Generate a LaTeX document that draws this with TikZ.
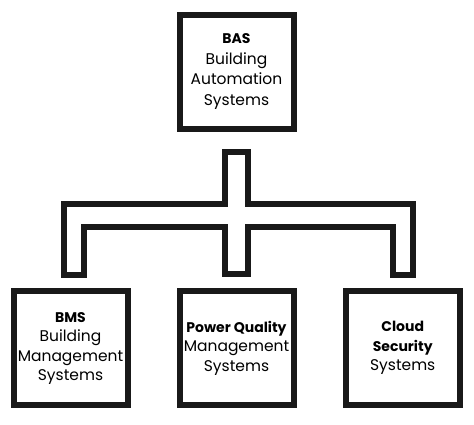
\documentclass[tikz,border=0pt]{standalone}
\usepackage{fontspec}
\setmainfont{Poppins}
\usetikzlibrary{calc}
\newcommand{\hd}[1]{{\fontsize{14}{19.5}\selectfont\bfseries #1}}
\begin{document}
\begin{tikzpicture}[x=1pt,y=-1pt,
  box/.style={draw=black!90, line width=6pt, minimum width=114pt, minimum height=114pt,
    inner sep=0pt, align=center, font=\fontsize{15.5}{19.5}\selectfont},
  fork/.style={draw=black!90, line width=6pt, line join=miter, fill=white}]
\useasboundingbox[fill=white] (0,0) rectangle (474,424);
\node[box, font=\fontsize{15.5}{20.5}\selectfont] (bas) at (236.5,71.5) {\hd{BAS}\\Building\\Automation\\Systems};
\node[box] (bms) at (70.5,348.3) {\hd{BMS}\\Building\\Management\\Systems};
\node[box] (pq) at (236.5,348.3) {\hd{Power Quality}\\Management\\Systems};
\node[box] (cs) at (402.7,348.3) {\hd{Cloud}\\\hd{Security}\\Systems};
% fork connector outline
\coordinate (s1) at ($(bas.south)+(-11.75,20)$);
\coordinate (s2) at ($(bas.south)+(11.75,20)$);
\coordinate (s3) at ($(s2)+(0,52.5)$);
\coordinate (r1) at ($(cs.north)+(10.3,0)$);
\coordinate (r2) at ($(cs.north)+(-9.7,0)$);
\coordinate (l1) at ($(bms.north)+(-7,0)$);
\coordinate (l2) at ($(bms.north)+(13.5,0)$);
\draw[fork] (s1) -- (s2) -- (s3) -- (s3 -| r1) -- ($(r1)+(0,-13)$) -- ($(r2)+(0,-13)$)
  -- ($(r2 |- s3)+(0,22.5)$) -- ($(s2 |- s3)+(0,22.5)$) -- ($(pq.north)+(11.75,-14)$)
  -- ($(pq.north)+(-11.75,-14)$) -- ($(s1 |- s3)+(0,22.5)$) -- ($(l2 |- s3)+(0,22.5)$)
  -- ($(l2)+(0,-13)$) -- ($(l1)+(0,-13)$) -- (l1 |- s3) -- (s1 |- s3) -- cycle;
\end{tikzpicture}
\end{document}
